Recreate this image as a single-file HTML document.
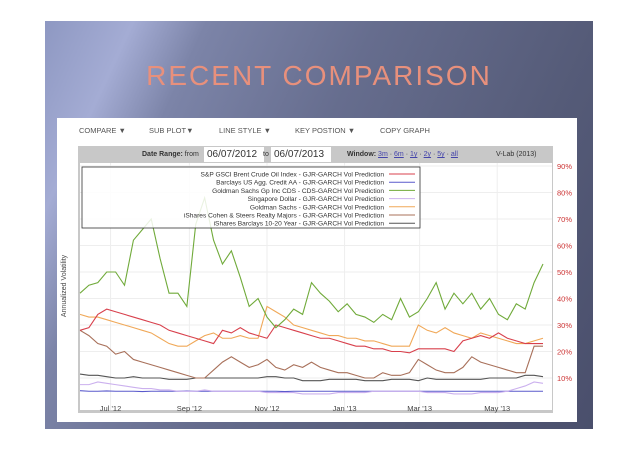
<!DOCTYPE html>
<html><head><meta charset="utf-8"><style>
body{margin:0;width:638px;height:452px;background:#fff;position:relative;overflow:hidden;font-family:"Liberation Sans",sans-serif}
#frame{position:absolute;left:45px;top:21px;width:548px;height:408px;background:linear-gradient(115deg,#8e98c2 0%,#a4acd4 12%,#7c84a8 22%,#666d8e 45%,#555b78 75%,#4a4f6c 100%)}
#title{position:absolute;left:45px;top:60px;width:548px;text-align:center;font-size:28px;letter-spacing:2px;color:#e8907c}
#panel{position:absolute;left:57px;top:118px;width:520px;height:304px;background:#fff}
.tb{position:absolute;top:126px;font-size:7.5px;color:#555}
#gbox{position:absolute;left:78px;top:146px;width:475px;height:267px;background:#c8c8c8}
.hd{position:absolute;font-size:7px;color:#333}
.inp{position:absolute;top:147px;height:15px;background:#fff;font-size:10px;color:#333;line-height:15px;padding:0 3px}
svg{position:absolute;left:0;top:0}
</style></head><body>
<div id="frame"></div>
<div id="title">RECENT COMPARISON</div>
<div id="panel"></div>
<div class="tb" style="left:79px">COMPARE ▼</div>
<div class="tb" style="left:149px">SUB PLOT▼</div>
<div class="tb" style="left:219px">LINE STYLE ▼</div>
<div class="tb" style="left:295px">KEY POSTION ▼</div>
<div class="tb" style="left:380px">COPY GRAPH</div>
<div id="gbox"></div>
<div class="hd" style="left:142px;top:151px"><b>Date Range:</b> from</div>
<div class="inp" style="left:204px;width:54px">06/07/2012</div>
<div class="hd" style="left:263px;top:151px">to</div>
<div class="inp" style="left:271px;width:54px">06/07/2013</div>
<div class="hd" style="left:347px;top:151px"><b>Window:</b> <u style="color:#44a">3m</u> · <u style="color:#44a">6m</u> · <u style="color:#44a">1y</u> · <u style="color:#44a">2y</u> · <u style="color:#44a">5y</u> · <u style="color:#44a">all</u></div>
<div class="hd" style="left:496px;top:151px">V-Lab (2013)</div>
<svg id="chart" width="638" height="452"></svg>
<script>
const dates=[];for(let i=0;i<53;i++)dates.push(i*7);
const brent=[28,29,34,36,35,34,33,32,31,30,28,27,26,25,24,23,28,27,29,27,26,25,30,29,28,27,26,25,25,24,23,22,22,21,21,20,20,19.5,21,21,21,21,20,24,25,26,25,27,25,24,23,23,23];
const credit=[5.2,5,5,5.1,5,5,5,4.9,5,5,5,5,5.1,5,5,5,5,5,5,5,5,5,5,4.9,5,5,5,5,5,5,5,5,5,5,5,5,5,5,5,5,5,5,5,5,5,5,5,5,5,5,5,5,5];
const cds=[42,45,46,50,50,45,62,66,70,55,42,42,37,68,78,62,53,58,48,37,40,33,29,32,36,34,46,42,39,35,38,34,33,31,34,32,40,33,35,40,46,36,42,38,42,36,40,34,32,38,36,46,53];
const sgd=[7.5,7.5,8.5,8,7.5,7,6.5,6,6,5.5,5.5,5,5,5,5.5,5,5,5,5,5,5,4.5,4.5,4.5,4.5,4,4,4,4,4.5,4.5,4.5,4.5,5,5,5,5,5,5,4.5,4.5,4.5,4,4,4,4.5,4.5,4.5,5,6,7,8.5,8];
const gs=[34,33,33,32,31,30,29,28,27,25,23,22,22,24,26,27,25,25,26,25,25,37,35,33,30,29,28,27,26,26,25,25,24,24,23,22,22,22,30,28,27,29,27,26,25,27,26,25,24,23,23,24,25];
const realty=[28,26,23,22,19,20,17,16,15,14,13,12,11,10,10,13,16,18,16,14,15,17,14,13,15,14,16,14,13,12,12,11,10,10,12,11,11,12,17,15,13,12,12,14,18,16,15,14,13,12,12,22,22];
const treas=[11.5,11,11,10.5,10,10,10.5,10,10,10,9.5,9.5,9.5,10,10,10,10,10,10,10,10,10.5,10.5,10,10,9,9,9,9.5,9.5,9.5,9.5,9,9,9,9.5,9.5,9.5,9,10,9.5,9.5,9.5,9.5,9.5,9.5,10,10,10,10,11,11,10.5];
const yTicks=[10,20,30,40,50,60,70,80,90];
const xTickDays=[24,86,147,208,267,328];
const xTickLabels=["Jul '12","Sep '12","Nov '12","Jan '13","Mar '13","May '13"];
const legendNames=["S&P GSCI Brent Crude Oil Index - GJR-GARCH Vol Prediction","Barclays US Agg. Credit AA - GJR-GARCH Vol Prediction","Goldman Sachs Gp Inc CDS - CDS-GARCH Vol Prediction","Singapore Dollar - GJR-GARCH Vol Prediction","Goldman Sachs - GJR-GARCH Vol Prediction","iShares Cohen & Steers Realty Majors - GJR-GARCH Vol Prediction","iShares Barclays 10-20 Year - GJR-GARCH Vol Prediction"];
const NS="http://www.w3.org/2000/svg";
const svg=document.getElementById('chart');
const X=d=>80+d*(463/364), Y=v=>404.5-v*2.65;
function el(t,a,p){const e=document.createElementNS(NS,t);for(const k in a)e.setAttribute(k,a[k]);(p||svg).appendChild(e);return e;}
const pa=el('rect',{x:80,y:163,width:472,height:247,fill:'#fff'});


yTicks.forEach(v=>{
 const l=el('line',{x1:80,x2:552,y1:Y(v),y2:Y(v),stroke:'#eee','stroke-width':1});
 
 
 const t=el('text',{x:557,y:Y(v)+3,'font-size':7.5,fill:'#c33','font-family':'Liberation Sans, sans-serif'});
 t.textContent=v+'%';
 
 
});
xTickDays.forEach((d,i)=>{
 const l=el('line',{x1:X(d),x2:X(d),y1:163,y2:410,stroke:'#eee','stroke-width':1});
 
 
 const t=el('text',{x:X(d),y:411,'font-size':7.5,fill:'#444','text-anchor':'middle','font-family':'Liberation Sans, sans-serif'});
 t.textContent=xTickLabels[i];
 
 
});
const series=[[credit,'#5a5acc','series-barclays-credit'],[sgd,'#cbb0ee','series-singapore-dollar'],[treas,'#555','series-barclays-treasury'],[realty,'#a8705a','series-realty-majors'],[gs,'#f0a858','series-goldman-sachs'],[brent,'#d8404c','series-brent-crude'],[cds,'#70aa3a','series-goldman-cds']];
series.forEach(s=>{
 const p=el('polyline',{points:s[0].map((v,i)=>X(dates[i])+','+Y(v)).join(' '),fill:'none',stroke:s[1],'stroke-width':1.1});
 
 
});
const yt=el('text',{x:0,y:0,'font-size':7,fill:'#444','text-anchor':'middle','font-family':'Liberation Sans, sans-serif',transform:'translate(66,286) rotate(-90)'});
yt.textContent='Annualized Volatility';


const lg=el('rect',{x:82,y:167,width:338,height:61,fill:'rgba(255,255,255,0.85)',stroke:'#333','stroke-width':0.8});


const lc=['#d8404c','#5a5acc','#70aa3a','#cbb0ee','#f0a858','#a8705a','#555'];
legendNames.forEach((n,i)=>{
 const y=174+i*8.2;
 const t=el('text',{x:384,y:y+2.5,'font-size':6.6,fill:'#333','text-anchor':'end','font-family':'Liberation Sans, sans-serif'});
 t.textContent=n;
 
 
 const l=el('line',{x1:389,x2:415,y1:y,y2:y,stroke:lc[i],'stroke-width':1});
 
 
});
</script>
</body></html>
